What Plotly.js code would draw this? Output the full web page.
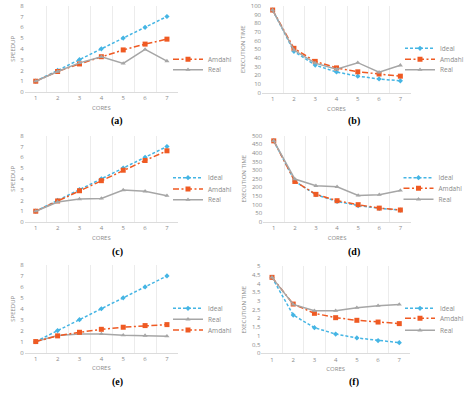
<!DOCTYPE html>
<html><head><meta charset="utf-8">
<script src="https://cdn.plot.ly/plotly-3.0.1.min.js"></script>
<style>html,body{margin:0;padding:0;background:#fff}#chart{width:474px;height:395px}</style>
</head><body><div id="chart"></div>
<script>
// ---- data ----
const cores = ['1','2','3','4','5','6','7'];
const seriesNames = ['Ideal','Amdahl','Real'];
// (a) speedup
const aIdeal  = [1,2,3,4,5,6,7];
const aAmdahl = [1,1.9,2.6,3.27,3.9,4.44,4.9];
const aReal   = [1,1.9,2.7,3.27,2.65,3.95,2.87];
// (b) execution time
const bIdeal  = [95,47.5,31.7,23.8,19,15.8,13.6];
const bAmdahl = [95,51,36,28.5,24,21.5,19];
const bReal   = [95,49,34,27,34.5,23.5,31.5];
// (c) speedup
const cIdeal  = [1,2,3,4,5,6,7];
const cAmdahl = [1,1.95,2.9,3.83,4.8,5.7,6.6];
const cReal   = [1,1.85,2.13,2.19,2.96,2.84,2.44];
// (d) execution time
const dIdeal  = [470,235,157,118,94,78,67];
const dAmdahl = [470,234,159,122,99,79,68];
const dReal   = [470,248,209,203,153,157,182];
// (e) speedup
const eIdeal  = [1,2,3,4,5,6,7];
const eReal   = [1,1.55,1.7,1.7,1.58,1.55,1.49];
const eAmdahl = [1,1.52,1.85,2.12,2.31,2.46,2.55];
// (f) execution time
const fIdeal  = [4.35,2.19,1.47,1.1,0.88,0.73,0.61];
const fAmdahl = [4.35,2.82,2.29,2.04,1.89,1.79,1.7];
const fReal   = [4.35,2.8,2.44,2.44,2.61,2.73,2.8];
const panelLabels = ['(a)','(b)','(c)','(d)','(e)','(f)'];
const yTitles = ['SPEEDUP','EXECUTION TIME','SPEEDUP','EXECUTION TIME','SPEEDUP','EXECUTION TIME'];
const xTitle = 'CORES';

// ---- layout helpers ----
const W = 474, H = 395;
const px = x => x / W;
const py = y => 1 - y / H;
const gray = '#8a8a8a';
const styles = {
  Ideal:  {color:'#45b5e4', dash:'3px,2px',          symbol:'diamond',     size:4},
  Amdahl: {color:'#ef5a23', dash:'6px,2.5px,2px,2.5px', symbol:'square',   size:5},
  Real:   {color:'#a6a6a6', dash:'solid',            symbol:'triangle-up', size:4.5}
};
const panels = [
  {data:{Ideal:aIdeal,Amdahl:aAmdahl,Real:aReal}, order:['Ideal','Amdahl','Real'],
   x0:24.8,x1:177.9,y0:92,y1:5.7, range:[0,8], dtick:1, legX:207, legY:[48,59.3,69.7], lab:[117,121]},
  {data:{Ideal:bIdeal,Amdahl:bAmdahl,Real:bReal}, order:['Ideal','Amdahl','Real'],
   x0:262,x1:411,y0:92.7,y1:5.7, range:[0,100], dtick:10, legX:439, legY:[48.3,59.3,69.7], lab:[354,121]},
  {data:{Ideal:cIdeal,Amdahl:cAmdahl,Real:cReal}, order:['Ideal','Amdahl','Real'],
   x0:24.8,x1:177.9,y0:222,y1:135.7, range:[0,8], dtick:1, legX:207, legY:[177.7,189,199.7], lab:[117,251.7]},
  {data:{Ideal:dIdeal,Amdahl:dAmdahl,Real:dReal}, order:['Ideal','Amdahl','Real'],
   x0:263.2,x1:410.9,y0:221.7,y1:135.7, range:[0,500], dtick:50, legX:437.5, legY:[177.7,188.3,199.3], lab:[354,251.7]},
  {data:{Ideal:eIdeal,Amdahl:eAmdahl,Real:eReal}, order:['Ideal','Real','Amdahl'],
   x0:24.8,x1:177.9,y0:352.5,y1:265, range:[0,8], dtick:1, legX:207, legY:[308.3,319.3,330], lab:[117,382.3]},
  {data:{Ideal:fIdeal,Amdahl:fAmdahl,Real:fReal}, order:['Ideal','Amdahl','Real'],
   x0:261.4,x1:409.9,y0:353.3,y1:266, range:[0,5], dtick:0.5, legX:439, legY:[308.3,318.3,330.3], lab:[354,382.3]}
];

const traces = [];
const layout = {
  width: W, height: H, margin:{l:0,r:0,t:0,b:0},
  paper_bgcolor:'#fff', plot_bgcolor:'#fff',
  font:{family:'Open Sans, sans-serif', size:6, color:gray},
  separators:', ',
  annotations: []
};
let legIdx = 0;
panels.forEach((p, i) => {
  const n = i + 1;
  const xk = 'xaxis' + (n === 1 ? '' : n), yk = 'yaxis' + (n === 1 ? '' : n);
  const xr = 'x' + (n === 1 ? '' : n), yr = 'y' + (n === 1 ? '' : n);
  layout[xk] = {
    domain:[px(p.x0), px(p.x1)], anchor: yr, type:'category',
    categoryorder:'array', categoryarray: cores, range:[-0.5, 6.5],
    tickson:'boundaries', showgrid:true, gridcolor:'#ececec', gridwidth:1,
    ticks:'', showline:true, linecolor:'#dcdcdc', linewidth:1, zeroline:false,
    tickfont:{size:6, color:gray},
    title:{text:xTitle, font:{size:6, color:gray}, standoff:4}
  };
  layout[yk] = {
    domain:[py(p.y0), py(p.y1)], anchor: xr, range:p.range, dtick:p.dtick,
    showgrid:false, zeroline:false, showline:false, ticks:'',
    tickfont:{size:6, color:gray},
    title:{text:yTitles[i], font:{size:6, color:gray}, standoff:4}
  };
  p.order.forEach((name, k) => {
    legIdx++;
    const lk = 'legend' + (legIdx === 1 ? '' : legIdx);
    const s = styles[name];
    traces.push({
      type:'scatter', mode:'lines+markers', name:name,
      x: cores, y: p.data[name], xaxis: xr, yaxis: yr,
      legend: lk, cliponaxis:false,
      line:{color:s.color, dash:s.dash, width:1.5},
      marker:{color:s.color, symbol:s.symbol, size:s.size}
    });
    layout[lk] = {
      x: px(p.legX - 39), y: py(p.legY[k]), xanchor:'left', yanchor:'middle',
      bgcolor:'rgba(0,0,0,0)', borderwidth:0, itemwidth:30,
      font:{size:6.5, color:gray}
    };
  });
  layout.annotations.push({
    xref:'paper', yref:'paper', x:px(p.lab[0]), y:py(p.lab[1]),
    xanchor:'center', yanchor:'middle', showarrow:false,
    text:'<b>' + panelLabels[i] + '</b>',
    font:{family:'Liberation Serif, serif', size:10, color:'#000'}
  });
});

Plotly.newPlot('chart', traces, layout, {staticPlot:true, displayModeBar:false});
</script></body></html>
